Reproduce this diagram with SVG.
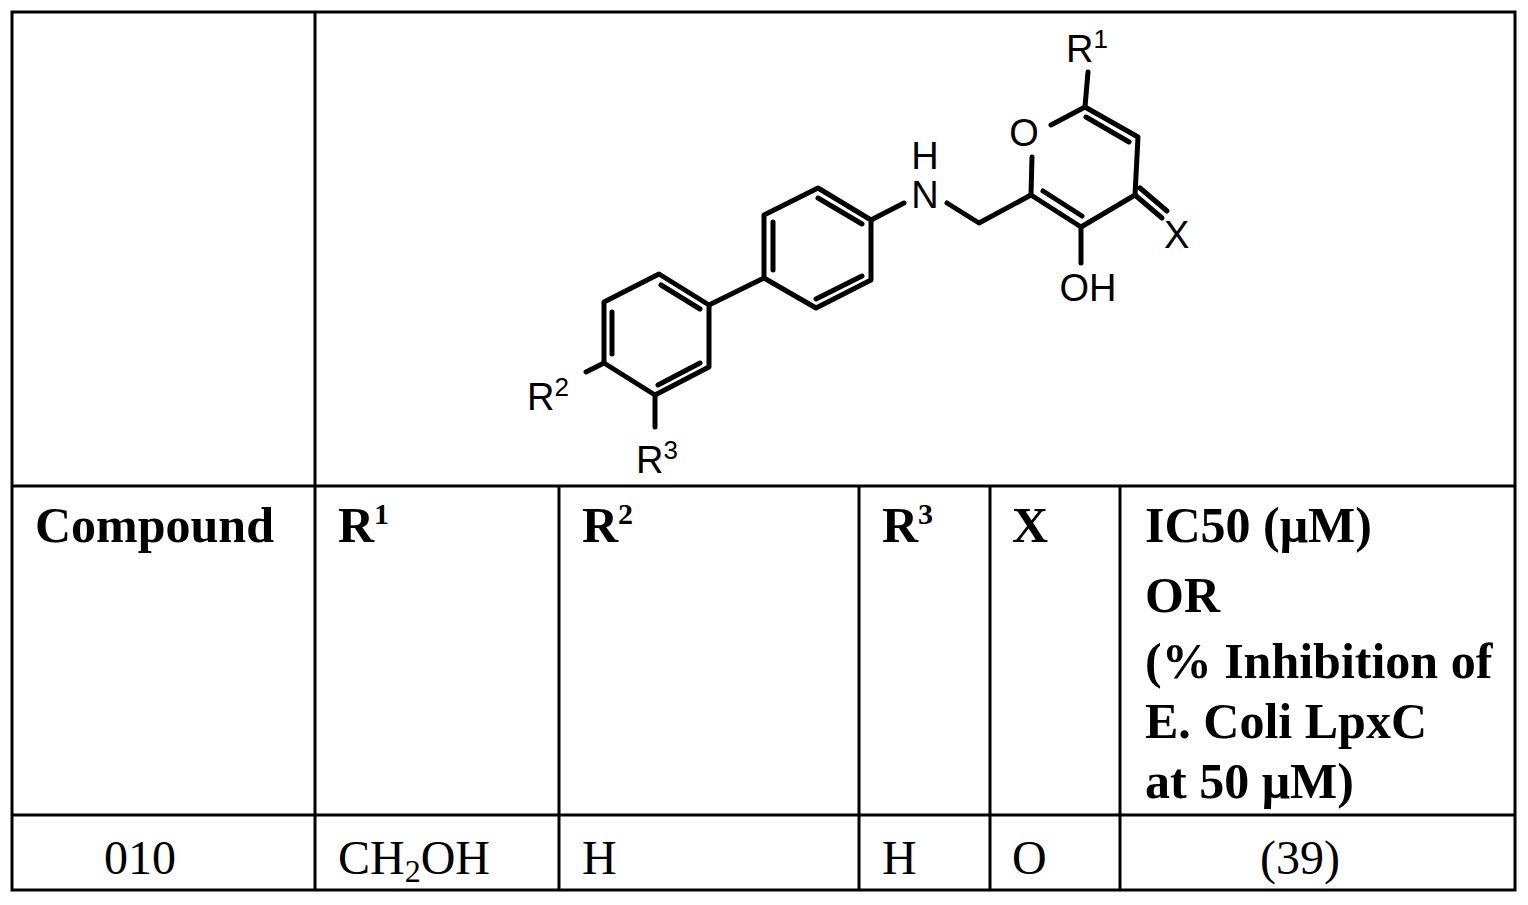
<svg xmlns="http://www.w3.org/2000/svg" width="1528" height="905" viewBox="0 0 1528 905">
<style>
.g{stroke:#000;stroke-width:3;fill:none}
.b{stroke:#000;stroke-width:5;fill:none;stroke-linejoin:round;stroke-linecap:round}
.s{font-family:"Liberation Sans",Arial,sans-serif;font-size:38px}
.h{font-family:"Liberation Serif","Times New Roman",serif;font-size:50px;font-weight:bold}
.d{font-family:"Liberation Serif","Times New Roman",serif;font-size:48px}
</style>
<rect width="1528" height="905" fill="#fff"/>
<g id="table" class="g">
<rect x="12" y="12" width="1503" height="878"/>
<line x1="315" y1="12" x2="315" y2="890"/>
<line x1="12" y1="486" x2="1515" y2="486"/>
<line x1="12" y1="815" x2="1515" y2="815"/>
<line x1="559" y1="486" x2="559" y2="890"/>
<line x1="859" y1="486" x2="859" y2="890"/>
<line x1="990" y1="486" x2="990" y2="890"/>
<line x1="1120" y1="486" x2="1120" y2="890"/>
</g>
<g id="structure">
<g class="b">
<polygon points="604,302 659,274 709,305 709,367 655,395 604,363"/>
<line x1="612" y1="312" x2="612" y2="354"/>
<line x1="661" y1="285" x2="700" y2="309"/>
<line x1="700" y1="363" x2="658" y2="385"/>
<polygon points="764,278 764,215 818,188 871,220 871,280 816,308"/>
<line x1="773" y1="222" x2="773" y2="270"/>
<line x1="818" y1="198" x2="862" y2="224"/>
<line x1="862" y1="276" x2="816" y2="299"/>
<line x1="709" y1="305" x2="764" y2="278"/>
<line x1="871" y1="220" x2="904" y2="203"/>
<polyline points="947,203 979,223 1031,195"/>
<polyline points="1032,157 1031,195 1081,227 1135,195 1138,137 1085,107 1051,125"/>
<line x1="1043" y1="191" x2="1082" y2="216"/>
<line x1="1086" y1="117" x2="1129" y2="142"/>
<line x1="1081" y1="227" x2="1081" y2="263"/>
<line x1="1135" y1="195" x2="1162" y2="218"/>
<line x1="1140" y1="188" x2="1167" y2="211"/>
<line x1="1085" y1="107" x2="1088" y2="72"/>
<line x1="604" y1="363" x2="586" y2="372"/>
<line x1="655" y1="395" x2="655" y2="427"/>
</g>
<g class="s">
<text x="1066" y="62">R<tspan font-size="26" dy="-14">1</tspan></text>
<text x="1024" y="146" text-anchor="middle">O</text>
<text x="925" y="208" text-anchor="middle">N</text>
<text x="925" y="169" text-anchor="middle">H</text>
<text x="1164" y="248">X</text>
<text x="1088" y="301" text-anchor="middle">OH</text>
<text x="527" y="410">R<tspan font-size="26" dy="-14">2</tspan></text>
<text x="636" y="473">R<tspan font-size="26" dy="-14">3</tspan></text>
</g>
</g>
<g id="header" class="h">
<text x="35" y="542">Compound</text>
<text x="338" y="542">R<tspan font-size="30" dy="-18">1</tspan></text>
<text x="582" y="542">R<tspan font-size="30" dy="-18">2</tspan></text>
<text x="882" y="542">R<tspan font-size="30" dy="-18">3</tspan></text>
<text x="1012" y="542">X</text>
<text x="1145" y="542">IC50 (μM)</text>
<text x="1145" y="612">OR</text>
<text x="1145" y="678">(% Inhibition of</text>
<text x="1145" y="738">E. Coli LpxC</text>
<text x="1145" y="798">at 50 μM)</text>
</g>
<g id="row" class="d">
<text x="140" y="874" text-anchor="middle">010</text>
<text x="338" y="874">CH<tspan font-size="32" dy="8">2</tspan><tspan dy="-8">OH</tspan></text>
<text x="582" y="874">H</text>
<text x="882" y="874">H</text>
<text x="1012" y="874">O</text>
<text x="1300" y="874" text-anchor="middle">(39)</text>
</g>
</svg>
